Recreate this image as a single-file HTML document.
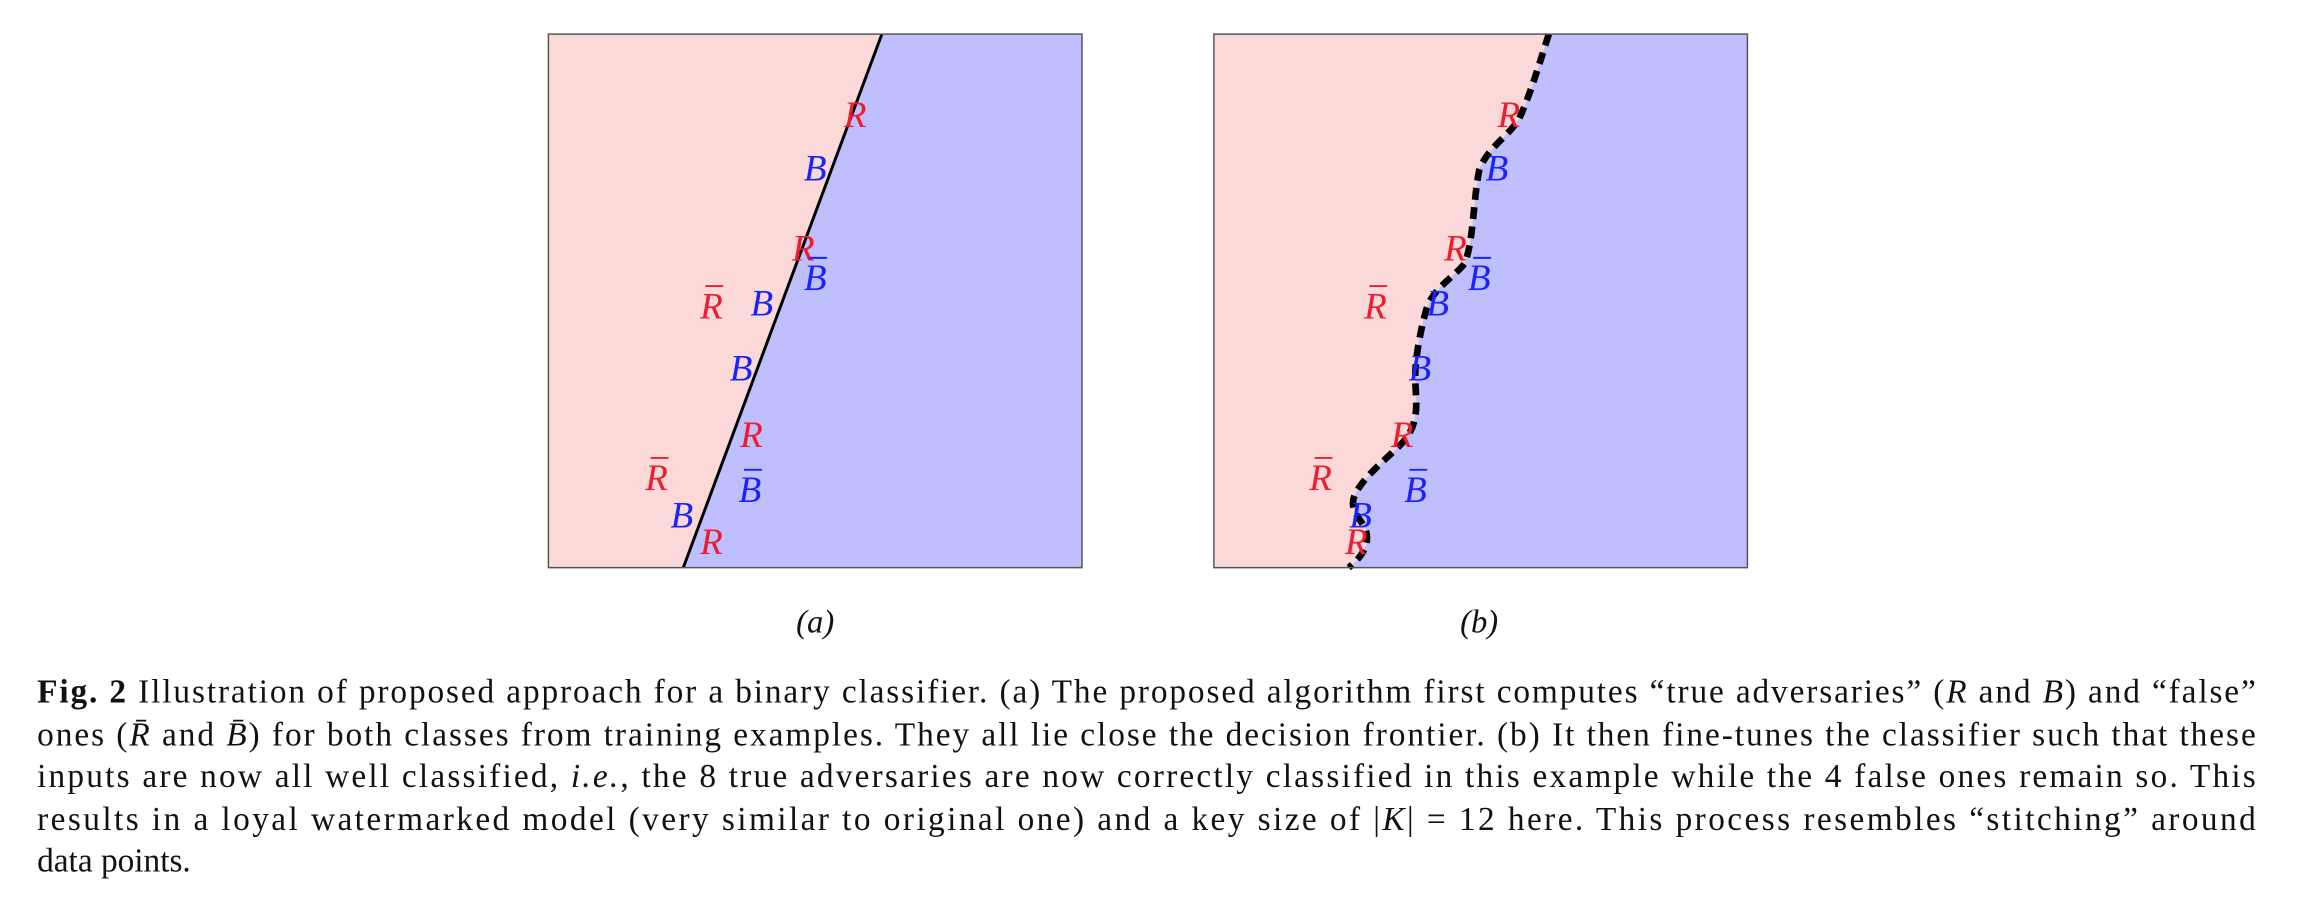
<!DOCTYPE html>
<html><head><meta charset="utf-8"><style>
html,body{margin:0;padding:0;background:#fff;}
svg{display:block}
.l{font-family:"Liberation Serif",serif;font-style:italic;font-size:25px;text-anchor:middle;dominant-baseline:central}
.r{fill:#ee1c2c}.b{fill:#1a22ff}
.c{font-family:"Liberation Serif",serif;font-size:22.5px;fill:#111}
</style></head><body>
<svg width="2324" height="918" viewBox="0 0 1568 619.4" xmlns="http://www.w3.org/2000/svg">
<!-- panel a -->
<rect x="370" y="23" width="360" height="360" fill="#bfbffd"/>
<polygon points="370,23 595,23 461,383 370,383" fill="#fbd9d9"/>
<line x1="595" y1="23" x2="461" y2="383" stroke="#000" stroke-width="2"/>
<rect x="370" y="23" width="360" height="360" fill="none" stroke="#555" stroke-width="1"/>
<g class="l">
<text class="r" x="577" y="78">R</text>
<text class="b" x="550" y="114">B</text>
<text class="r" x="542" y="168">R</text>
<text class="b" x="550" y="188">B</text><line x1="546" y1="174" x2="558" y2="174" stroke="#1a22ff" stroke-width="1.3"/>
<text class="r" x="480" y="207">R</text><line x1="476" y1="193" x2="488" y2="193" stroke="#ee1c2c" stroke-width="1.3"/>
<text class="b" x="514" y="205">B</text>
<text class="b" x="500" y="249">B</text>
<text class="r" x="507" y="294">R</text>
<text class="r" x="443" y="323">R</text><line x1="439" y1="309" x2="451" y2="309" stroke="#ee1c2c" stroke-width="1.3"/>
<text class="b" x="506" y="331">B</text><line x1="502" y1="317" x2="514" y2="317" stroke="#1a22ff" stroke-width="1.3"/>
<text class="b" x="460" y="348">B</text>
<text class="r" x="480" y="366">R</text>
</g>
<text x="550" y="420" class="l" style="fill:#111;font-size:22px">(a)</text>

<!-- panel b -->
<rect x="819" y="23" width="360" height="360" fill="#bfbffd"/>
<path d="M819,23 L1045,23 C1038,45 1032,65 1025,80 C1018,92 1003,100 998,115 C994,135 994,165 988,178 C980,188 966,195 962,210 C958,225 954,245 955,260 C956,275 957,288 945,300 C935,310 922,320 915,332 C908,345 920,350 922,360 C924,370 916,378 910,383 L819,383 Z" fill="#fbd9d9"/>
<path d="M1045,23 C1038,45 1032,65 1025,80 C1018,92 1003,100 998,115 C994,135 994,165 988,178 C980,188 966,195 962,210 C958,225 954,245 955,260 C956,275 957,288 945,300 C935,310 922,320 915,332 C908,345 920,350 922,360 C924,370 916,378 910,383" fill="none" stroke="#000" stroke-width="4.5" stroke-dasharray="8,5"/>
<rect x="819" y="23" width="360" height="360" fill="none" stroke="#555" stroke-width="1"/>
<g class="l">
<text class="r" x="1018" y="78">R</text>
<text class="b" x="1010" y="114">B</text>
<text class="r" x="982" y="168">R</text>
<text class="b" x="998" y="188">B</text><line x1="994" y1="174" x2="1006" y2="174" stroke="#1a22ff" stroke-width="1.3"/>
<text class="r" x="928" y="207">R</text><line x1="924" y1="193" x2="936" y2="193" stroke="#ee1c2c" stroke-width="1.3"/>
<text class="b" x="970" y="205">B</text>
<text class="b" x="958" y="249">B</text>
<text class="r" x="946" y="294">R</text>
<text class="r" x="891" y="323">R</text><line x1="887" y1="309" x2="899" y2="309" stroke="#ee1c2c" stroke-width="1.3"/>
<text class="b" x="955" y="331">B</text><line x1="951" y1="317" x2="963" y2="317" stroke="#1a22ff" stroke-width="1.3"/>
<text class="b" x="918" y="348">B</text>
<text class="r" x="915" y="366">R</text>
</g>
<text x="998" y="420" class="l" style="fill:#111;font-size:22px">(b)</text>

<!-- caption -->
<text class="c" x="25" y="474" textLength="1497" lengthAdjust="spacing"><tspan font-weight="bold">Fig. 2</tspan>  Illustration of proposed approach for a binary classifier. (a) The proposed algorithm first computes “true adversaries” (<tspan font-style="italic">R</tspan> and <tspan font-style="italic">B</tspan>) and “false”</text>
<text class="c" x="25" y="503" textLength="1497" lengthAdjust="spacing">ones (<tspan font-style="italic">R̄</tspan> and <tspan font-style="italic">B̄</tspan>) for both classes from training examples. They all lie close the decision frontier. (b) It then fine-tunes the classifier such that these</text>
<text class="c" x="25" y="531" textLength="1497" lengthAdjust="spacing">inputs are now all well classified, <tspan font-style="italic">i.e.</tspan>,  the 8 true adversaries are now correctly classified in this example while the 4 false ones remain so. This</text>
<text class="c" x="25" y="560" textLength="1497" lengthAdjust="spacing">results in a loyal watermarked model (very similar to original one) and a key size of |<tspan font-style="italic">K</tspan>| = 12 here. This process resembles “stitching” around</text>
<text class="c" x="25" y="588">data points.</text>
</svg>
</body></html>
